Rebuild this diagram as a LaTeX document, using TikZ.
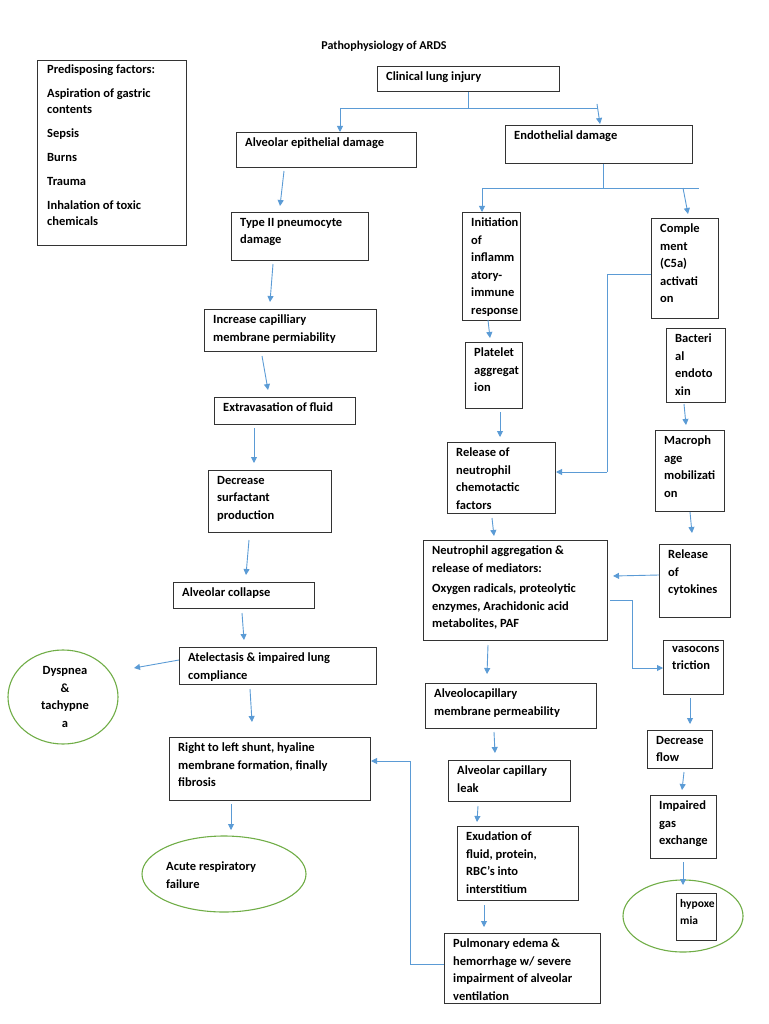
\documentclass[tikz,border=0pt]{standalone}
\usepackage{fontspec}
\setmainfont{Carlito}
\usetikzlibrary{calc,arrows.meta}
\tikzset{
 bx/.style={draw=black!80,line width=1pt},
 tx/.style={anchor=north west,align=left,inner sep=0pt,font=\bfseries\fontsize{12.5}{17.5}\selectfont},
 arr/.style={draw={rgb,255:red,91;green,155;blue,213},line width=0.9pt,-{Triangle[length=6pt,width=6pt]}},
 ln/.style={draw={rgb,255:red,91;green,155;blue,213},line width=0.9pt},
 ell/.style={draw={rgb,255:red,112;green,173;blue,71},line width=1.1pt}
}
\newcommand\bx[6]{%
 \node[bx,anchor=north west,minimum width=#4-#2,minimum height=#5-#3,inner sep=0pt] (#1) at (#2,#3) {};
 \node[tx] at (#2+9,#3+6) {#6};}
\begin{document}
\begin{tikzpicture}[x=1pt,y=-1pt]
\useasboundingbox (0,0) rectangle (768,1024);
\node[font=\bfseries\fontsize{12}{13}\selectfont] (title) at (384,46) {Pathophysiology of ARDS};
\node[bx,anchor=north west,minimum width=149,minimum height=185,inner sep=0pt] (pre) at (37,60) {};
\node[tx,font=\bfseries\fontsize{12.5}{16}\selectfont] at (47,65) {Predisposing factors:\\[8pt]Aspiration of gastric\\contents\\[8pt]Sepsis\\[8pt]Burns\\[8pt]Trauma\\[8pt]Inhalation of toxic\\chemicals};
\bx{cli}{377}{66}{559}{91}{Clinical lung injury}
\bx{aed}{236}{132}{416}{167}{Alveolar epithelial damage}
\bx{end}{505}{125}{692}{163}{Endothelial damage}
\bx{typ}{231}{212}{368}{260}{Type II pneumocyte\\damage}
\bx{ini}{462}{212}{520}{320}{Initiation\\of\\inflamm\\atory-\\immune\\response}
\bx{com}{651}{218}{718}{318}{Comple\\ment\\(C5a)\\activati\\on}
\bx{inc}{204}{309}{376}{351}{Increase capilliary\\membrane permiability}
\bx{pla}{465}{342}{522}{408}{Platelet\\aggregat\\ion}
\bx{bac}{666}{328}{725}{402}{Bacteri\\al\\endoto\\xin}
\bx{ext}{214}{397}{355}{424}{Extravasation of fluid}
\bx{rel}{447}{442}{555}{513}{Release of\\neutrophil\\chemotactic\\factors}
\bx{mac}{655}{430}{724}{511}{Macroph\\age\\mobilizati\\on}
\bx{dec}{208}{470}{331}{532}{Decrease\\surfactant\\production}
\bx{neu}{423}{540}{607}{640}{Neutrophil aggregation \&\\release of mediators:\\[3pt]Oxygen radicals, proteolytic\\enzymes, Arachidonic acid\\metabolites, PAF}
\bx{cyt}{659}{544}{730}{617}{Release\\of\\cytokines}
\bx{col}{173}{582}{314}{608}{Alveolar collapse}
\bx{ate}{179}{647}{376}{684}{Atelectasis \& impaired lung\\compliance}
\bx{vas}{663}{640}{723}{694}{vasocons\\triction}
\bx{alc}{425}{683}{596}{728}{Alveolocapillary\\membrane permeability}
\bx{rls}{169}{737}{370}{800}{Right to left shunt, hyaline\\membrane formation, finally\\fibrosis}
\bx{dfl}{647}{730}{712}{768}{Decrease\\flow}
\bx{acl}{448}{760}{570}{801}{Alveolar capillary\\leak}
\bx{igx}{650}{795}{716}{858}{Impaired\\gas\\exchange}
\bx{exu}{457}{826}{578}{900}{Exudation of\\fluid, protein,\\RBC's into\\interstitium}
\bx{pul}{444}{933}{600}{1003}{Pulmonary edema \&\\hemorrhage w/ severe\\impairment of alveolar\\ventilation}
\draw[ell] (63,697) ellipse [x radius=55,y radius=47];
\node[tx,align=center,anchor=center] (dys) at (65,697) {Dyspnea\\\&\\tachypne\\a};
\draw[ell] (224,874) ellipse [x radius=82,y radius=38];
\node[tx] (arf) at (166,862) {Acute respiratory\\failure};
\draw[ell] (683,916) ellipse [x radius=60,y radius=36];
\node[bx,anchor=north west,minimum width=40,minimum height=47,inner sep=0pt] (hyp) at (676,893) {};
\node[tx,font=\bfseries\fontsize{11.5}{17}\selectfont] at (680,899) {hypoxe\\mia};
% connectors
\coordinate (j1) at (340,108); \coordinate (j2) at (598,108);
\draw[ln] (cli.south) -- ++(0,17);
\draw[ln] (j1) -- (j2);
\draw[arr] (j1) -- (aed.north -| j1);
\draw[arr] (597,104) -- (600,124);
\coordinate (k1) at (482,188); \coordinate (k2) at (699,188);
\draw[ln] (end.south -| 603,0) -- (603,188);
\draw[ln] (k1) -- (k2);
\draw[arr] (k1) -- (ini.north -| k1);
\draw[arr] (683,188) -- (688,214);
\draw[arr] (284,171) -- (280,206);
\draw[arr] (273,264) -- (270,302);
\draw[arr] (262,356) -- (268,390);
\draw[arr] (254,428) -- (254,463);
\draw[arr] (249,540) -- (246,575);
\draw[arr] (242,613) -- (244,640);
\draw[arr] (250,689) -- (252,722);
\draw[arr] (231,804) -- (231,830);
\draw[arr] (179,660) -- (134,668);
\draw[arr] (488,320) -- (490,338);
\draw[arr] (500,412) -- (500,437);
\draw[arr] (492,518) -- (494,536);
\draw[ln] (com.west |- 0,274) -- (607,274) -- (607,472);
\draw[arr] (607,472) -- (rel.east |- 0,472);
\draw[arr] (684,404) -- (686,425);
\draw[arr] (690,512) -- (692,533);
\draw[arr] (cyt.west |- 0,575) -- (613,576);
\draw[ln] (610,600) -- (632,600) -- (632,668);
\draw[arr] (632,668) -- (vas.west |- 0,668);
\draw[arr] (488,645) -- (487,674);
\draw[arr] (494,732) -- (495,753);
\draw[arr] (478,806) -- (477,822);
\draw[arr] (484,905) -- (484,927);
\draw[ln] (pul.west |- 0,964) -- (410,964) -- (410,761);
\draw[arr] (410,761) -- (rls.east |- 0,761);
\draw[arr] (690,698) -- (690,724);
\draw[arr] (684,772) -- (682,790);
\draw[arr] (683,862) -- (683,885);
\end{tikzpicture}
\end{document}
